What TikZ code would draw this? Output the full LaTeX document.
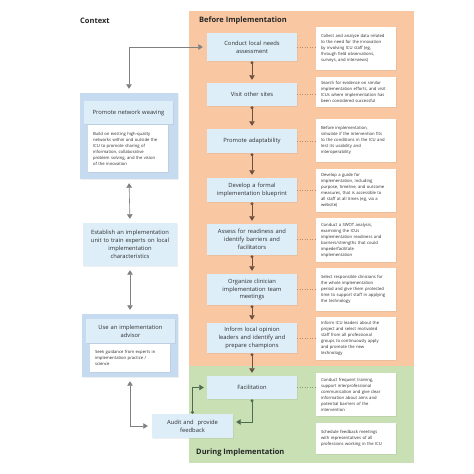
\documentclass[tikz,border=0pt]{standalone}
\usepackage{fontspec}
\setmainfont{Open Sans}
\usetikzlibrary{arrows.meta,shadows}
\definecolor{orangebg}{RGB}{249,200,162}
\definecolor{greenbg}{RGB}{200,224,180}
\definecolor{boxblue}{RGB}{221,238,249}
\definecolor{panelblue}{RGB}{198,218,240}
\definecolor{brownarr}{RGB}{110,80,64}
\definecolor{grayarr}{RGB}{128,128,128}
\definecolor{greenarr}{RGB}{79,107,79}
\definecolor{dotor}{RGB}{192,138,102}
\definecolor{dotgr}{RGB}{126,154,120}
\definecolor{txt}{RGB}{45,45,45}
\newcommand\fmid{\fontsize{5.8}{7.8}\selectfont}
\newcommand\fdesc{\fontsize{4.2}{6}\selectfont}
\newcommand\ftitle{\fontsize{7.5}{9}\selectfont\bfseries}
\tikzset{
  shad/.style={drop shadow={opacity=0.12,shadow xshift=0.6pt,shadow yshift=-0.8pt}},
  mid/.style={shad,fill=boxblue,text=txt,text width=84pt,align=center,inner xsep=3pt,inner ysep=3pt,font=\fmid,minimum height=23pt},
  desc/.style={shad,fill=white,text=txt,text width=70pt,align=left,inner xsep=5pt,inner ysep=3pt,font=\fdesc},
  panel/.style={shad,fill=panelblue,inner sep=0pt},
  titletext/.style={anchor=west,inner sep=0pt,font=\ftitle,text=black!85},
  midarrow/.style={draw=brownarr,line width=0.6pt,{Circle[length=3pt]}-{Triangle[width=5.5pt,length=4.5pt]},shorten >=3pt},
  grayarrowstyle/.style={draw=grayarr,line width=0.6pt,{Triangle[width=5.5pt,length=4.5pt]}-{Triangle[width=5.5pt,length=4.5pt]},shorten >=4pt,shorten <=4pt},
  greenarrowstyle/.style={draw=greenarr,line width=0.6pt,{Circle[length=3pt]}-{Triangle[width=5.5pt,length=4.5pt]},shorten >=3pt},
  dotconn/.style={draw=dotor,line width=0.5pt,dotted},
  dotconngr/.style={draw=dotgr,line width=0.5pt,dotted},
}
\begin{document}
\begin{tikzpicture}[x=1pt,y=-1pt]
\useasboundingbox (0,0) rectangle (474,474);
\fill[white] (0,0) rectangle (474,474);
% regions
\fill[orangebg] (189,11) rectangle (414,366);
\fill[greenbg] (189,366) rectangle (414,463);
% titles
\node[titletext] (ctx) at (80,21) {Context};
\node[titletext] (bef) at (199,21) {Before Implementation};
\node[titletext] (dur) at (196,453) {During Implementation};
% middle column
\node[mid,minimum height=28pt] (c1) at (252,47) {Conduct local needs\\assessment};
\node[mid] (c2) at (252,94.5) {Visit other sites};
\node[mid,minimum height=24pt] (c3) at (252,141) {Promote adaptability};
\node[mid,minimum height=24pt] (c4) at (252,190) {Develop a formal\\implementation blueprint};
\node[mid,minimum height=31pt] (c5) at (252,239.5) {Assess for readiness and\\identify barriers and\\facilitators};
\node[mid,minimum height=31pt] (c6) at (252,289.5) {Organize clinician\\implementation team\\meetings};
\node[mid,minimum height=30pt] (c7) at (252,338) {Inform local opinion\\leaders and identify and\\prepare champions};
\node[mid] (c8) at (252,387.5) {Facilitation};
% descriptions
\node[desc,minimum height=43pt] (d1) at (356,48.5) {Collect and analyze data related\\to the need for the innovation\\by involving ICU staff (eg,\\through field observations,\\surveys, and interviews)};
\node[desc,minimum height=30pt] (d2) at (356,92) {Search for evidence on similar\\implementation efforts, and visit\\ICUs where implementation has\\been considered successful};
\node[desc,minimum height=43pt] (d3) at (356,140.5) {Before implementation,\\simulate if the intervention fits\\to the conditions in the ICU and\\test its usability and\\interoperability};
\node[desc,minimum height=43pt] (d4) at (356,190.5) {Develop a guide for\\implementation, including\\purpose, timeline, and outcome\\measures, that is accessible to\\all staff at all times (eg, via a\\website)};
\node[desc,minimum height=44pt] (d5) at (356,240) {Conduct a SWOT analysis,\\examining the ICUs\\implementation readiness and\\barriers/strengths that could\\impede/facilitate\\implementation};
\node[desc,minimum height=43pt] (d6) at (356,289.5) {Select responsible clinicians for\\the whole implementation\\period and give them protected\\time to support staff in applying\\the technology};
\node[desc,minimum height=43pt] (d7) at (356,338.5) {Inform ICU leaders about the\\project and select motivated\\staff from all professional\\groups to continuously apply\\and promote the new\\technology};
\node[desc,minimum height=43pt] (d8) at (356,394.5) {Conduct frequent training,\\support interprofessional\\communication and give clear\\information about aims and\\potential barriers of the\\intervention};
\node[desc,minimum height=31pt] (d9) at (356,438.5) {Schedule feedback meetings\\with representatives of all\\professions working in the ICU};
% left column
\node[panel,minimum width=98pt,minimum height=86pt] (p1) at (129,136) {};
\node[mid,text width=83pt,minimum height=23pt] (t1) at (128.5,112.5) {Promote network weaving};
\node[desc,minimum height=47pt] (l1) at (128,148.5) {Build on existing high-quality\\networks within and outside the\\ICU to promote sharing of\\information, collaborative\\problem solving, and the vision\\of the innovation};
\node[mid,text width=88pt,minimum height=43pt] (est) at (130,244.5) {Establish an implementation\\unit to train experts on local\\implementation\\characteristics};
\node[panel,minimum width=96pt,minimum height=63pt] (p3) at (130,345.5) {};
\node[mid,text width=83pt,minimum height=24pt] (t3) at (130.5,331) {Use an implementation\\advisor};
\node[desc,minimum height=28pt] (l3) at (130,358) {Seek guidance from experts in\\implementation practice /\\science};
\node[mid,text width=75pt,minimum height=24pt] (aud) at (192.5,426) {Audit and\ \ provide\\feedback};
% middle arrows
\draw[midarrow] (c1.south) -- (c2.north);
\draw[midarrow] (c2.south) -- (c3.north);
\draw[midarrow] (c3.south) -- (c4.north);
\draw[midarrow] (c4.south) -- (c5.north);
\draw[midarrow] (c5.south) -- (c6.north);
\draw[midarrow] (c6.south) -- (c7.north);
\draw[midarrow] (c7.south) -- (c8.north);
% dotted connectors
\draw[dotconn] (c1.east) -- (d1.west |- c1.east);
\draw[dotconn] (c2.east) -- (d2.west |- c2.east);
\draw[dotconn] (c3.east) -- (d3.west |- c3.east);
\draw[dotconn] (c4.east) -- (d4.west |- c4.east);
\draw[dotconn] (c5.east) -- (d5.west |- c5.east);
\draw[dotconn] (c6.east) -- (d6.west |- c6.east);
\draw[dotconn] (c7.east) -- (d7.west |- c7.east);
\draw[dotconngr] (c8.east) -- (d8.west |- c8.east);
% left arrows
\draw[grayarrowstyle] (c1.west) -| (p1.north);
\draw[grayarrowstyle] (p1.south) -- (est.north);
\draw[grayarrowstyle] (est.south) -- (p3.north);
\draw[grayarrowstyle] (p3.south) |- (aud.west);
% green arrows
\draw[greenarrowstyle] (aud.north) |- (c8.west);
\draw[greenarrowstyle] (c8.south) |- ([yshift=4pt]aud.east);
\end{tikzpicture}
\end{document}
